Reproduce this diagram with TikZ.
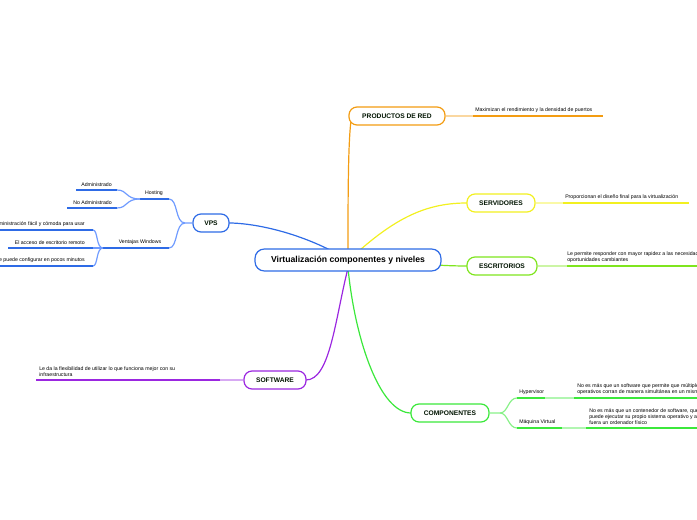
\documentclass[tikz,border=0pt]{standalone}
\usepackage{fontspec}
\setmainfont{Liberation Sans}
\begin{document}
\begin{tikzpicture}[x=0.75pt,y=-0.75pt,
 topic/.style={draw,line width=0.9pt,rounded corners=6pt,fill=white,font=\fontsize{5}{6}\selectfont\bfseries,text=black!80!green!40!black,minimum height=13.5pt,inner sep=0pt},
 small/.style={font=\fontsize{3.9}{4.6}\selectfont,inner sep=0pt,align=left},
 conn/.style={line width=0.9pt},
 ul/.style={line width=1.1pt}]
\useasboundingbox (0,0) rectangle (697,520);
\clip (0,0) rectangle (697,520);
\definecolor{cblue}{HTML}{2E6BE6}
\definecolor{corange}{HTML}{F39C12}
\definecolor{cyel}{HTML}{F2F020}
\definecolor{cgrn1}{HTML}{7FE51E}
\definecolor{cgrn2}{HTML}{3BE83B}
\definecolor{cpurp}{HTML}{9B27E0}
\definecolor{cvps}{HTML}{6F9BFF}
% connectors from center
\coordinate (c0) at (348,260);
\draw[conn,corange] (348,252) .. controls (348,200) and (348,130) .. (352,116);
\draw[conn,cyel] (360,250) .. controls (400,215) and (430,203) .. (467,203);
\draw[conn,cgrn1] (400,262) .. controls (430,265) and (450,266) .. (467,266);
\draw[conn,cgrn2] (348,268) .. controls (355,340) and (380,413) .. (411,413);
\draw[conn,cpurp] (348,268) .. controls (335,320) and (330,380) .. (306,380);
\draw[conn,cblue] (330,250) .. controls (290,230) and (250,223) .. (229,223);
\node[draw=cblue,line width=0.9pt,rounded corners=7pt,fill=white,minimum width=139.5pt,minimum height=16.5pt,font=\fontsize{6.5}{8}\selectfont\bfseries,inner sep=0pt] (ctr) at (348,260) {Virtualización componentes y niveles};
% PRODUCTOS
\node[topic,draw=corange,minimum width=72pt] (prod) at (397,116) {PRODUCTOS DE RED};
\draw[corange!40,line width=0.9pt] (prod.east) -- (473,116);
\draw[ul,corange] (473,116) -- (603,116);
\node[small,anchor=south west] (prodt) at (475,113) {Maximizan el rendimiento y la densidad de puertos};
% SERVIDORES
\node[topic,draw=cyel,minimum width=51pt] (serv) at (501,203) {SERVIDORES};
\draw[cyel!40,line width=0.9pt] (serv.east) -- (563,203);
\draw[ul,cyel] (563,203) -- (689,203);
\node[small,anchor=south west] (servt) at (565,200) {Proporcionan el diseño final para la virtualización};
% ESCRITORIOS
\node[topic,draw=cgrn1,minimum width=52.5pt] (esc) at (502,266) {ESCRITORIOS};
\draw[cgrn1!40,line width=0.9pt] (esc.east) -- (567,266);
\draw[ul,cgrn1] (567,266) -- (697,266);
\node[small,anchor=south west] (esct) at (567,263) {Le permite responder con mayor rapidez a las necesidades y\\oportunidades cambiantes};
% COMPONENTES
\node[topic,draw=cgrn2,minimum width=58.5pt] (comp) at (450,413) {COMPONENTES};
\draw[conn,cgrn2!60] (comp.east) -- (500,413) .. controls (508,413) and (508,398) .. (517,398);
\draw[conn,cgrn2!60] (500,413) .. controls (508,413) and (508,428) .. (517,428);
\draw[ul,cgrn2] (517,398) -- (545,398);
\draw[cgrn2!40,line width=0.9pt] (545,398) -- (574,398);
\draw[ul,cgrn2] (574,398) -- (697,398);
\node[small,anchor=south west] (hyp) at (519,395) {Hypervisor};
\node[small,anchor=south west] (hypt) at (577,395) {No es más que un software que permite que múltiples sistemas\\operativos corran de manera simultánea en un mismo equipo};
\draw[ul,cgrn2] (517,428) -- (562,428);
\draw[cgrn2!40,line width=0.9pt] (562,428) -- (586,428);
\draw[ul,cgrn2] (586,428) -- (697,428);
\node[small,anchor=south west] (mv) at (519,425) {Máquina Virtual};
\node[small,anchor=south west] (mvt) at (589,425) {No es más que un contenedor de software, que\\puede ejecutar su propio sistema operativo y aplicaciones como si\\fuera un ordenador físico};
% SOFTWARE
\node[topic,draw=cpurp,minimum width=46.5pt] (soft) at (275,380) {SOFTWARE};
\draw[cpurp!40,line width=0.9pt] (soft.west) -- (220,380);
\draw[ul,cpurp] (220,380) -- (36,380);
\node[small,anchor=south west] (softt) at (39,377) {Le da la flexibilidad de utilizar lo que funciona mejor con su\\infraestructura};
% VPS
\node[topic,draw=cblue,minimum width=27pt] (vps) at (211,223) {VPS};
\draw[conn,cvps] (vps.west) -- (185,223) .. controls (175,223) and (178,199) .. (169,199);
\draw[conn,cvps] (185,223) .. controls (175,223) and (178,248) .. (169,248);
\draw[ul,cblue] (169,199) -- (140,199);
\node[small,anchor=south] (host) at (154,196) {Hosting};
\draw[conn,cvps] (140,199) .. controls (125,199) and (128,190) .. (117,190);
\draw[conn,cvps] (140,199) .. controls (125,199) and (128,208) .. (117,208);
\draw[ul,cblue] (117,190) -- (76,190);
\node[small,anchor=south east] (adm) at (112,187) {Administrado};
\draw[ul,cblue] (117,208) -- (67,208);
\node[small,anchor=south east] (nadm) at (112,205) {No Administrado};
\draw[ul,cblue] (169,248) -- (103,248);
\node[small,anchor=south] (vw) at (140,245) {Ventajas Windows};
\draw[conn,cvps] (103,248) .. controls (96,248) and (98,230) .. (93,230);
\draw[conn,cvps] (103,248) -- (93,248);
\draw[conn,cvps] (103,248) .. controls (96,248) and (98,266) .. (93,266);
\draw[ul,cblue] (93,230) -- (0,230);
\node[small,anchor=south east] (v1) at (85,227) {Administración fácil y cómoda para usar};
\draw[ul,cblue] (93,248) -- (8,248);
\node[small,anchor=south east] (v2) at (85,245) {El acceso de escritorio remoto};
\draw[ul,cblue] (93,266) -- (0,266);
\node[small,anchor=south east] (v3) at (85,263) {Se puede configurar en pocos minutos};
\end{tikzpicture}
\end{document}
